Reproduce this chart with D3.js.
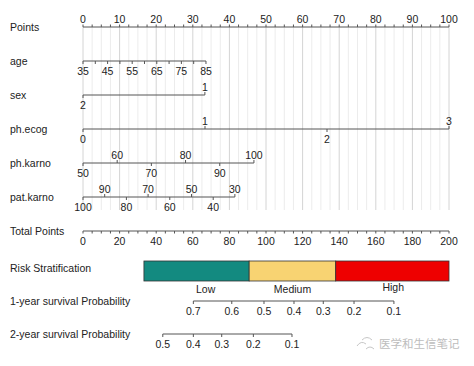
<!DOCTYPE html>
<html><head><meta charset="utf-8">
<script src="https://cdn.jsdelivr.net/npm/d3@7"></script>
<style>
body{margin:0;background:#fff;}
svg{display:block;font-family:"Liberation Sans",Arial,sans-serif;}
</style></head>
<body>
<svg id="chart" width="474" height="366"></svg>
<script>
// ---------- data ----------
const rowLabels = ["Points","age","sex","ph.ecog","ph.karno","pat.karno","Total Points","Risk Stratification","1-year survival Probability","2-year survival Probability"];

const pointsMajorTicks = [0,10,20,30,40,50,60,70,80,90,100];
const pointsMinorStep = 2.5;

const ageRange = [35,85];            const agePoints = [0,33.6];
const ageTicks = [35,40,45,50,55,60,65,70,75,80,85];
const ageLabelsBelow = [35,45,55,65,75,85];
const ageLabelsAbove = [];

const sexRange = [2,1];              const sexPoints = [0,33.3];
const sexTicks = [2,1];
const sexLabelsBelow = [2];          const sexLabelsAbove = [1];

const ecogRange = [0,3];             const ecogPoints = [0,100];
const ecogTicks = [0,1,2,3];
const ecogLabelsBelow = [0,2];       const ecogLabelsAbove = [1,3];

const phKarnoRange = [50,100];       const phKarnoPoints = [0,46.7];
const phKarnoTicks = [50,60,70,80,90,100];
const phKarnoLabelsBelow = [50,70,90]; const phKarnoLabelsAbove = [60,80,100];

const patKarnoRange = [100,30];      const patKarnoPoints = [0,41.5];
const patKarnoTicks = [100,90,80,70,60,50,40,30];
const patKarnoLabelsBelow = [100,80,60,40]; const patKarnoLabelsAbove = [90,70,50,30];

const totalMajorTicks = [0,20,40,60,80,100,120,140,160,180,200];
const totalMinorStep = 5;

const riskNames = ["Low","Medium","High"];
const riskBounds = [33.3,90.8,138.1,200];      // in total points
const riskLabelAt = [67,114.5,169.5];           // in total points
const riskColors = ["#138a80","#f8d372","#ee0000"];

const surv1Labels = [0.7,0.6,0.5,0.4,0.3,0.2,0.1];
const surv1TotalPts = [60.3,81.3,98.9,115.3,131.3,148.1,169.9];
const surv2Labels = [0.5,0.4,0.3,0.2,0.1];
const surv2TotalPts = [43.6,60.3,75.8,93.1,114.2];

// ---------- layout ----------
const svg = d3.select("#chart");
const X0 = 83, X1 = 449;
const xPts = d3.scaleLinear().domain([0,100]).range([X0,X1]);
const xTot = d3.scaleLinear().domain([0,200]).range([X0,X1]);
const rowY = [27,61,95,129,163,197,231,270,301,334];
const textCol = "#222", axisCol = "#555";
const FS = 10.5;

// grid lines
const gridVals = d3.range(0,100+1e-9,pointsMinorStep);
svg.append("g").selectAll("line").data(gridVals).join("line")
  .attr("x1",d=>xPts(d)).attr("x2",d=>xPts(d))
  .attr("y1",rowY[0]).attr("y2",210)
  .attr("stroke",d=>(d%10===0)?"#d4d4d4":"#ececec").attr("stroke-width",1);

// row labels
svg.append("g").selectAll("text").data(rowLabels).join("text")
  .attr("x",10).attr("y",(d,i)=>rowY[i]+(i===7?-2:0)).attr("dy","0.35em")
  .attr("font-size",FS).attr("fill",textCol).text(d=>d);

function lbl(g,x,y,t){
  g.append("text").attr("x",x).attr("y",y).attr("dy","0.35em")
   .attr("text-anchor","middle").attr("font-size",FS).attr("fill",textCol).text(t);
}

// Points axis
{
  const g = svg.append("g");
  const y = rowY[0];
  g.append("line").attr("x1",X0).attr("x2",X1).attr("y1",y).attr("y2",y).attr("stroke",axisCol);
  g.selectAll("line.t").data(gridVals).join("line").attr("class","t")
    .attr("x1",d=>xPts(d)).attr("x2",d=>xPts(d)).attr("y1",y).attr("y2",y-2.5).attr("stroke",axisCol);
  pointsMajorTicks.forEach(v=>lbl(g,xPts(v),y-8,v));
}

// variable axes
function varAxis(i,range,pts,ticks,below,above){
  const g = svg.append("g");
  const y = rowY[i];
  const toPts = d3.scaleLinear().domain(range).range(pts);
  const x = v=>xPts(toPts(v));
  g.append("line").attr("x1",x(range[0])).attr("x2",x(range[1])).attr("y1",y).attr("y2",y).attr("stroke",axisCol);
  ticks.forEach(v=>{
    const up = above.includes(v);
    g.append("line").attr("x1",x(v)).attr("x2",x(v)).attr("y1",y).attr("y2",up?y-3:y+3).attr("stroke",axisCol);
  });
  below.forEach(v=>lbl(g,x(v),y+10,v));
  above.forEach(v=>lbl(g,x(v),y-8,v));
}
varAxis(1,ageRange,agePoints,ageTicks,ageLabelsBelow,ageLabelsAbove);
varAxis(2,sexRange,sexPoints,sexTicks,sexLabelsBelow,sexLabelsAbove);
varAxis(3,ecogRange,ecogPoints,ecogTicks,ecogLabelsBelow,ecogLabelsAbove);
varAxis(4,phKarnoRange,phKarnoPoints,phKarnoTicks,phKarnoLabelsBelow,phKarnoLabelsAbove);
varAxis(5,patKarnoRange,patKarnoPoints,patKarnoTicks,patKarnoLabelsBelow,patKarnoLabelsAbove);

// Total points axis
{
  const g = svg.append("g");
  const y = rowY[6];
  g.append("line").attr("x1",X0).attr("x2",X1).attr("y1",y).attr("y2",y).attr("stroke",axisCol);
  g.selectAll("line.t").data(d3.range(0,200+1e-9,totalMinorStep)).join("line").attr("class","t")
    .attr("x1",d=>xTot(d)).attr("x2",d=>xTot(d)).attr("y1",y).attr("y2",y+2.5).attr("stroke",axisCol);
  totalMajorTicks.forEach(v=>lbl(g,xTot(v),y+10,v));
}

// Risk stratification bar
{
  const g = svg.append("g");
  const yTop = 261, yBot = 281;
  riskNames.forEach((n,k)=>{
    g.append("rect").attr("x",xTot(riskBounds[k])).attr("y",yTop)
      .attr("width",xTot(riskBounds[k+1])-xTot(riskBounds[k])).attr("height",yBot-yTop)
      .attr("fill",riskColors[k]).attr("stroke","#333").attr("stroke-width",0.8);
    g.append("text").attr("x",xTot(riskLabelAt[k])).attr("y",k===2?287:289).attr("dy","0.35em")
      .attr("text-anchor","middle").attr("font-size",FS).attr("fill",textCol).text(n);
  });
}

// survival axes
function survAxis(i,labels,tps){
  const g = svg.append("g");
  const y = rowY[i];
  g.append("line").attr("x1",xTot(d3.min(tps))).attr("x2",xTot(d3.max(tps))).attr("y1",y).attr("y2",y).attr("stroke",axisCol);
  labels.forEach((v,k)=>{
    g.append("line").attr("x1",xTot(tps[k])).attr("x2",xTot(tps[k])).attr("y1",y).attr("y2",y+3).attr("stroke",axisCol);
    lbl(g,xTot(tps[k]),y+10,v);
  });
}
survAxis(8,surv1Labels,surv1TotalPts);
survAxis(9,surv2Labels,surv2TotalPts);

// watermark
{
  const g = svg.append("g").attr("opacity",0.55);
  g.append("path").attr("d","M357,346 q4,-6 9,-2 M362,340 q5,-5 10,0 M366,349 q4,-4 8,0")
    .attr("fill","none").attr("stroke","#999").attr("stroke-width",1);
  g.append("text").attr("x",379).attr("y",344).attr("dy","0.35em")
    .attr("font-family","'Noto Sans CJK SC',sans-serif").attr("font-size",11.5).attr("fill","#888").text("医学和生信笔记");
}
</script>
</body></html>
